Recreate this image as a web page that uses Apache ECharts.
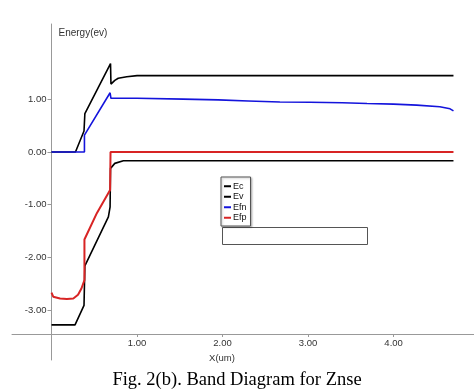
<!DOCTYPE html>
<html><head><meta charset="utf-8">
<script src="https://cdn.jsdelivr.net/npm/echarts@6/dist/echarts.min.js"></script>
<style>html,body{margin:0;padding:0;background:#fff}#c{width:474px;height:392px}</style>
</head><body><div id="c"></div>
<script>
// --- data ---
const seriesNames = ['Ec', 'Ev', 'Efn', 'Efp'];
const xTicks = [1, 2, 3, 4];
const yTicks = [-3, -2, -1, 0, 1];
const ecData = [[0,0],[0.28,0],[0.38,0.40],[0.39,0.73],[0.69,1.68],[0.695,1.29],[0.74,1.36],[0.78,1.40],[0.88,1.43],[1.0,1.45],[4.70,1.45]];
const evData = [[0,-3.28],[0.275,-3.28],[0.38,-2.91],[0.39,-2.16],[0.665,-1.23],[0.685,-1.04],[0.69,-0.31],[0.74,-0.215],[0.84,-0.165],[4.70,-0.165]];
const efnData = [[0,0],[0.385,0],[0.385,0.32],[0.685,1.125],[0.695,1.02],[1.0,1.02],[1.54,1.005],[1.95,0.99],[2.30,0.97],[2.67,0.95],[3.02,0.945],[3.40,0.935],[3.69,0.92],[4.0,0.91],[4.27,0.89],[4.54,0.86],[4.66,0.82],[4.70,0.78]];
const efpData = [[0,-2.67],[0.02,-2.745],[0.10,-2.78],[0.18,-2.79],[0.255,-2.78],[0.31,-2.71],[0.35,-2.59],[0.385,-2.43],[0.385,-1.66],[0.53,-1.16],[0.685,-0.72],[0.69,0],[4.70,0]];
const seriesData = [ecData, evData, efnData, efpData];
const colors = ['#000000', '#000000', '#1414dc', '#d82424'];

const chart = echarts.init(document.getElementById('c'), null, {renderer: 'canvas'});
const fmt = v => v.toFixed(2);
chart.setOption({
  animation: false,
  backgroundColor: '#fff',
  title: {
    text: 'Fig. 2(b). Band Diagram for Znse',
    left: 'center', top: 366,
    textStyle: {fontFamily: 'Liberation Serif', fontSize: 18.5, fontWeight: 'normal', color: '#000'}
  },
  legend: {
    orient: 'vertical', left: 221, top: 177,
    data: seriesNames,
    icon: 'rect', itemWidth: 7, itemHeight: 2, itemGap: 0,
    padding: [4, 4, 3, 3],
    borderColor: '#555', borderWidth: 1,
    shadowColor: 'rgba(0,0,0,0.25)', shadowBlur: 2, shadowOffsetX: 1, shadowOffsetY: 1,
    backgroundColor: '#fff',
    textStyle: {fontFamily: 'Liberation Sans', fontSize: 9, color: '#111', lineHeight: 10.5, padding: [0, 0, 0, -3]}
  },
  grid: {left: 12, right: 0, top: 24, bottom: 32, outerBoundsMode: 'none', containLabel: false},
  xAxis: {
    type: 'value', min: -0.462, max: 4.94,
    position: 'bottom', offset: -26,
    axisLine: {onZero: false, lineStyle: {color: '#999', width: 1}},
    axisTick: {customValues: xTicks, length: 3, lineStyle: {color: '#999'}},
    axisLabel: {customValues: xTicks, formatter: fmt, margin: 4, fontFamily: 'Liberation Sans', fontSize: 9.5, color: '#333'},
    splitLine: {show: false},
    name: 'X(um)', nameLocation: 'middle', nameGap: 18,
    nameTextStyle: {fontFamily: 'Liberation Sans', fontSize: 9.5, color: '#333', padding: [0, 42, 0, 0]}
  },
  yAxis: {
    type: 'value', min: -3.947, max: 2.43,
    position: 'left', offset: -39.5,
    axisLine: {onZero: false, lineStyle: {color: '#999', width: 1}},
    axisTick: {customValues: yTicks, length: 4, lineStyle: {color: '#999'}},
    axisLabel: {customValues: yTicks, formatter: fmt, margin: 5, fontFamily: 'Liberation Sans', fontSize: 9.5, color: '#333'},
    splitLine: {show: false},
    name: 'Energy(ev)', nameLocation: 'end', nameGap: -9,
    nameTextStyle: {fontFamily: 'Liberation Sans', fontSize: 10, color: '#333', align: 'left', verticalAlign: 'middle', padding: [0, 0, 0, 7]}
  },
  graphic: [{
    type: 'rect', left: 222, top: 227,
    shape: {width: 145, height: 17},
    style: {fill: '#fff', stroke: '#555', lineWidth: 1}
  }],
  series: seriesNames.map((n, i) => ({
    name: n, type: 'line', data: seriesData[i],
    showSymbol: false, symbol: 'none',
    lineStyle: {color: colors[i], width: i === 3 ? 2 : 1.6},
    itemStyle: {color: colors[i]},
    z: i === 3 ? 3 : 2
  }))
});
</script></body></html>
